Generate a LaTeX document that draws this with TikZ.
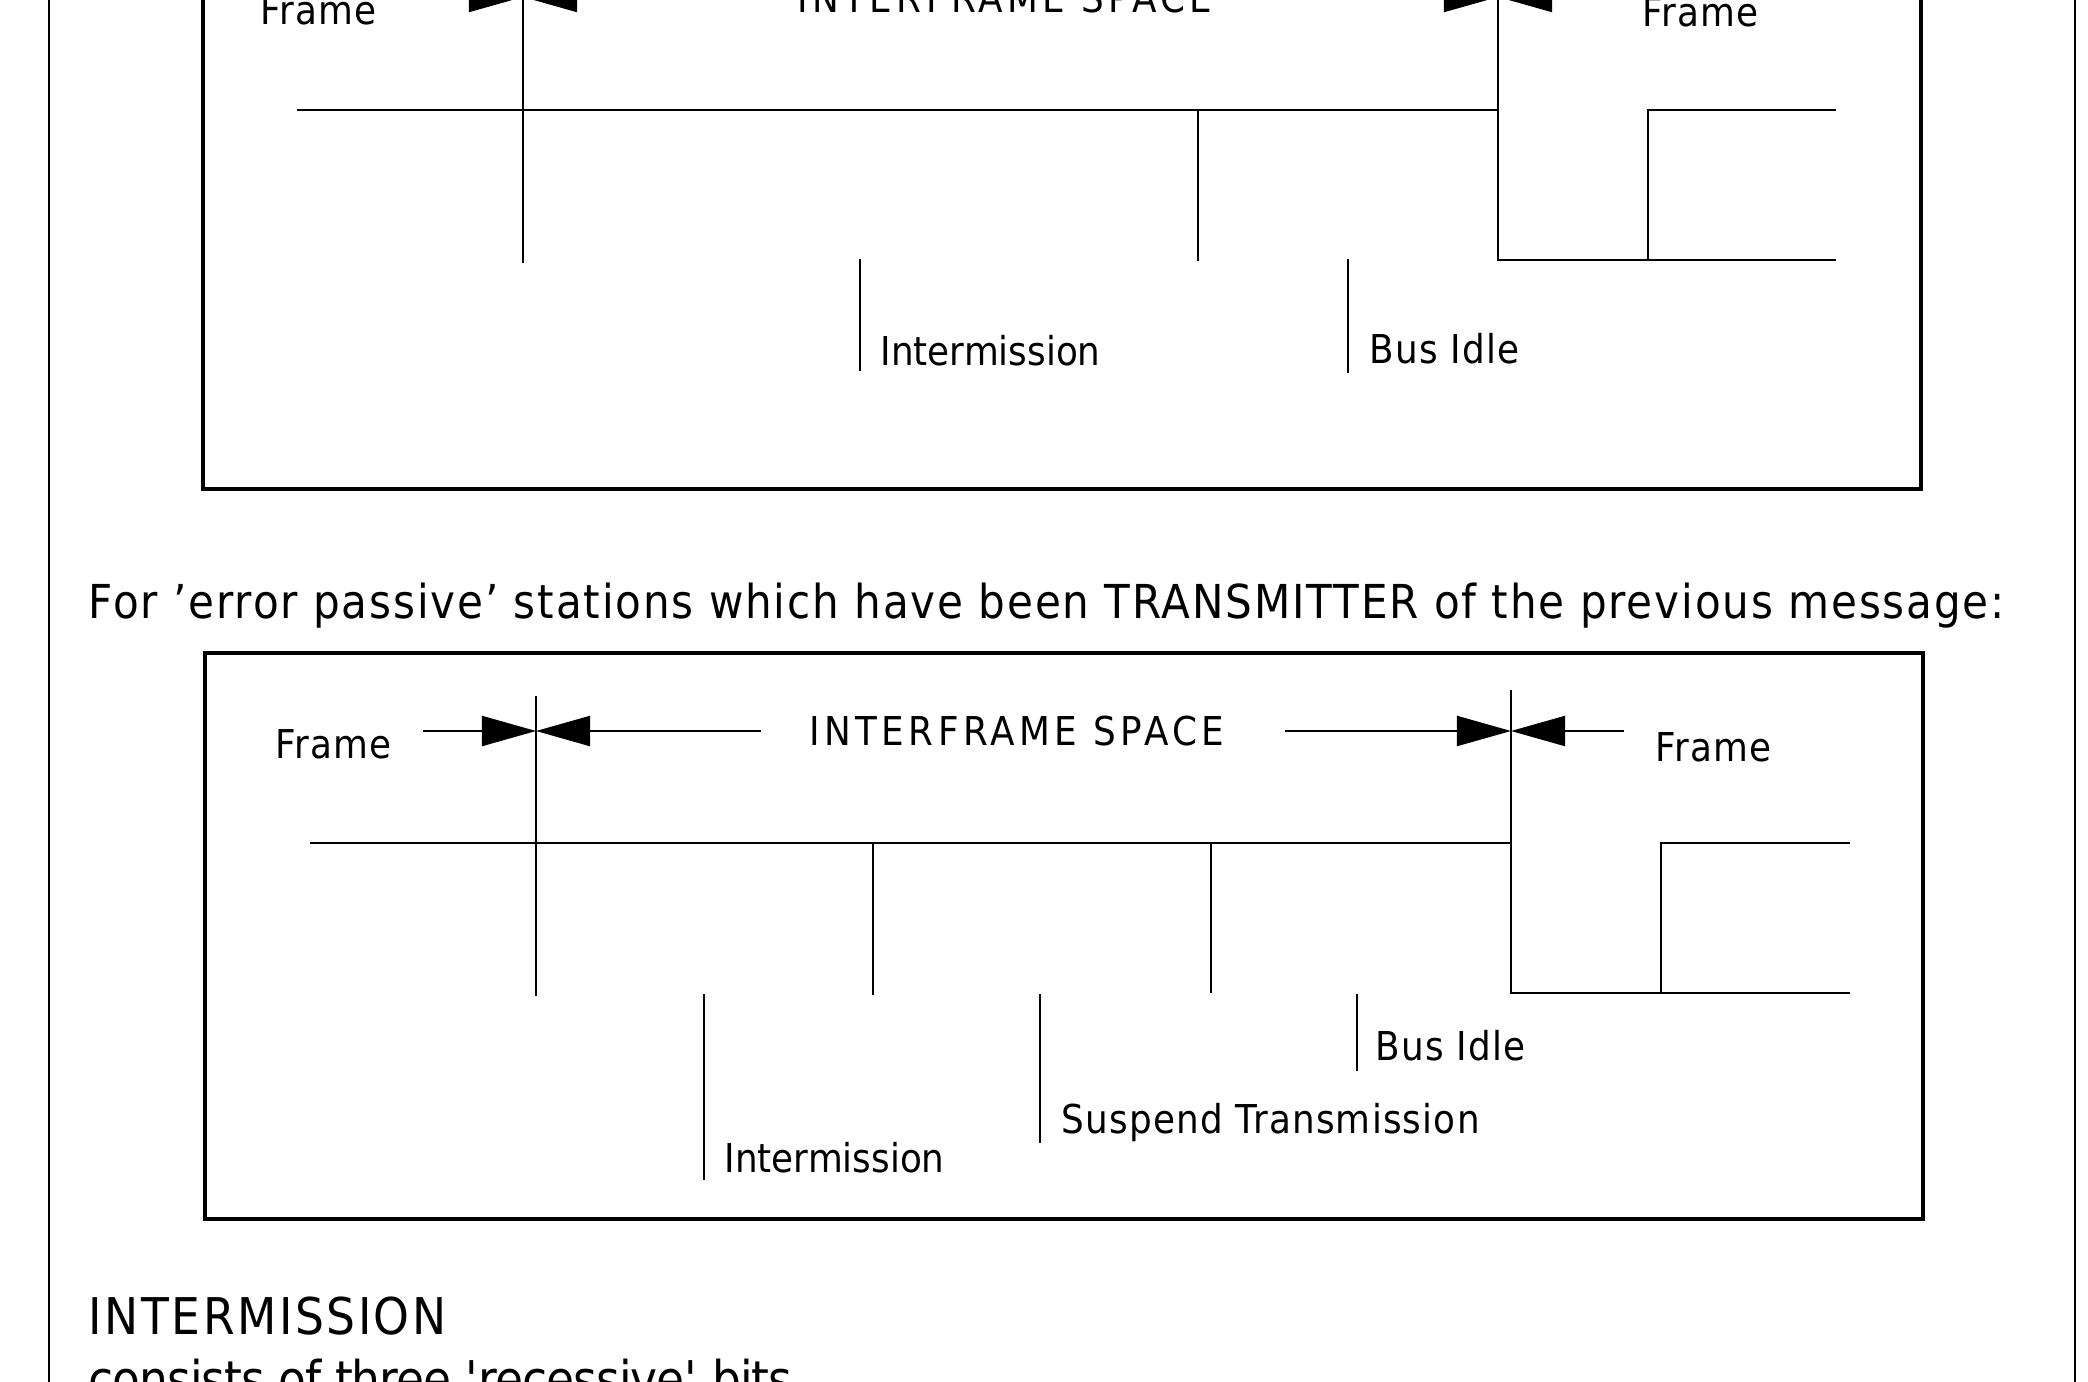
\documentclass[tikz,border=0pt]{standalone}
\usepackage{fontspec}
\setmainfont{DejaVu Sans}[FakeStretch=0.9]
\usetikzlibrary{arrows.meta}

\begin{document}
\begin{tikzpicture}[x=0.01cm,y=-0.01cm,
    wire/.style={line width=0.02cm},
    frm/.style={line width=0.034cm},
    dim/.style={wire,-{Triangle[length=0.54cm,width=0.3cm]}},
    lbl/.style={inner sep=0pt,anchor=base west,font=\fontsize{11.3}{13}\selectfont},
    spc/.style={lbl,font=\fontsize{11.3}{13}\selectfont\addfontfeature{LetterSpace=3}},
    wide/.style={lbl,font=\fontsize{11.3}{13}\selectfont\addfontfeature{LetterSpace=11}}]
			\useasboundingbox (0,0) rectangle (2088,1382);
			\clip (0,0) rectangle (2088,1382);
			\draw[wire] (49,0) -- (49,1382);
			\draw[wire] (2075,0) -- (2075,1382);
			% upper picture
			\draw[frm] (203,-80) rectangle (1921,489);
			\coordinate (ua1) at (410,-3);  \coordinate (uL) at (523,-3);  \coordinate (ua2) at (748,-3);
			\coordinate (ua3) at (1272,-3); \coordinate (uR) at (1498,-3); \coordinate (ua4) at (1611,-3);
			\draw[dim] (ua1) -- (uL);
			\draw[dim] (ua2) -- (uL);
			\draw[dim] (ua3) -- (uR);
			\draw[dim] (ua4) -- (uR);
			\node[spc] (uframeA) at (260,25) {Frame};
			\node[wide] (uifs) at (797,13) {INTERFRAME SPACE};
			\node[spc] (uframeB) at (1642,27) {Frame};
			\draw[wire] (523,-40) -- (523,263);
			\draw[wire] (297,110) -- (1498,110);
			\draw[wire] (1498,-45) -- (1498,260) -- (1836,260);
			\draw[wire] (1836,110) -- (1648,110) -- (1648,260);
			\draw[wire] (1198,110) -- (1198,261);
			\draw[wire] (860,259) -- (860,371);
			\node[lbl] (uinter) at (880,365) {Intermission};
			\draw[wire] (1348,259) -- (1348,373);
			\node[spc] (uidle) at (1369,363) {Bus Idle};
			% text between
			\node[lbl,font=\fontsize{13.3}{16}\selectfont\addfontfeature{LetterSpace=4}] (head) at (88,618)
			  {For ’error passive’ stations which have been TRANSMITTER of the previous message:};
			% lower picture
			\draw[frm] (205,653) rectangle (1923,1219);
			\coordinate (la1) at (423,731);  \coordinate (lL) at (536,731);  \coordinate (la2) at (761,731);
			\coordinate (la3) at (1285,731); \coordinate (lR) at (1511,731); \coordinate (la4) at (1624,731);
			\draw[dim] (la1) -- (lL);
			\draw[dim] (la2) -- (lL);
			\draw[dim] (la3) -- (lR);
			\draw[dim] (la4) -- (lR);
			\node[spc] (lframeA) at (275,758) {Frame};
			\node[wide] (lifs) at (809,745) {INTERFRAME SPACE};
			\node[spc] (lframeB) at (1655,761) {Frame};
			\draw[wire] (536,696) -- (536,996);
			\draw[wire] (310,843) -- (1511,843);
			\draw[wire] (1511,690) -- (1511,993) -- (1850,993);
			\draw[wire] (1850,843) -- (1661,843) -- (1661,993);
			\draw[wire] (873,843) -- (873,995);
			\draw[wire] (1211,843) -- (1211,993);
			\draw[wire] (704,994) -- (704,1180);
			\node[lbl] (linter) at (724,1172) {Intermission};
			\draw[wire] (1040,994) -- (1040,1143);
			\node[spc] (lsusp) at (1061,1133) {Suspend Transmission};
			\draw[wire] (1357,994) -- (1357,1071);
			\node[spc] (lidle) at (1375,1060) {Bus Idle};
			% below
			\node[lbl,font=\fontsize{14.4}{17}\selectfont\addfontfeature{LetterSpace=5}] (inter) at (88,1334) {INTERMISSION};
			\node[lbl,font=\fontsize{14.4}{17}\selectfont\addfontfeature{LetterSpace=-2}] (rule) at (88,1397) {consists of three \textquotesingle recessive\textquotesingle{} bits};
			\end{tikzpicture}
\end{document}
